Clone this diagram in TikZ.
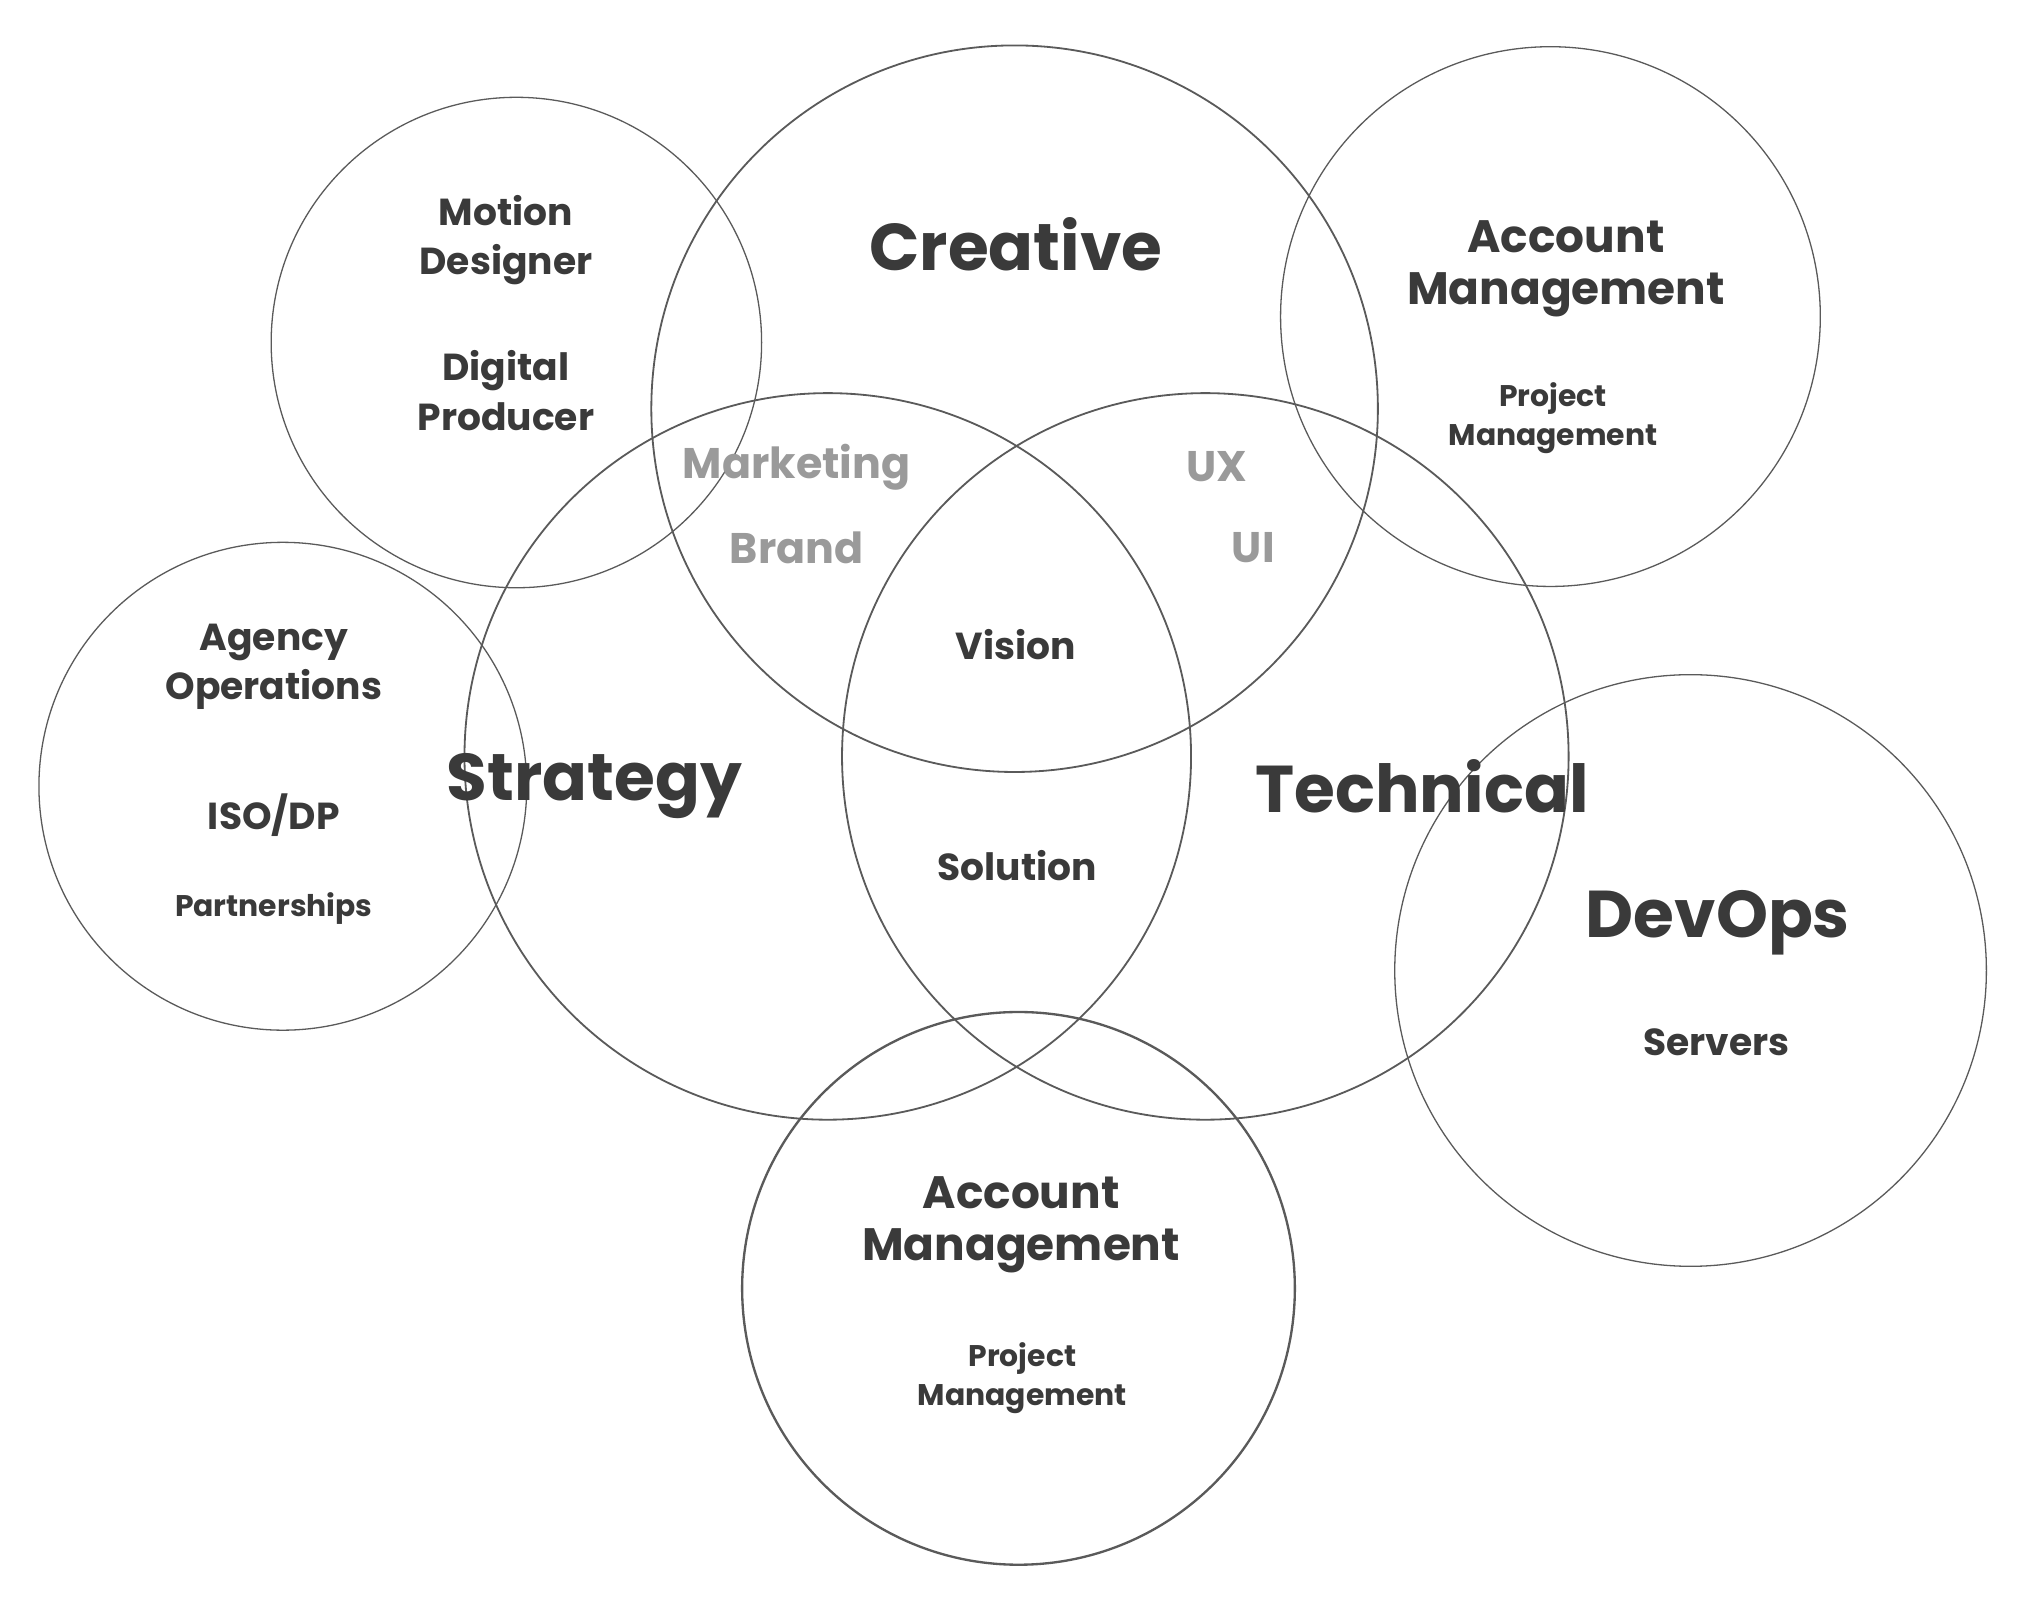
\documentclass[tikz,border=0pt]{standalone}
\usepackage{fontspec}
\setmainfont{Poppins}
\definecolor{txt}{HTML}{3A3A3A}
\definecolor{lite}{HTML}{9A9A9A}
\definecolor{ring}{HTML}{5A5A5A}
\tikzset{
 ring/.style={draw=ring,line width=1.4pt},
 big/.style={font=\bfseries\fontsize{51}{56}\selectfont,text=txt,align=center},
 mid/.style={font=\bfseries\fontsize{35}{40}\selectfont,text=txt,align=center},
 sml/.style={font=\bfseries\fontsize{29}{38}\selectfont,text=txt,align=center},
 tiny/.style={font=\bfseries\fontsize{23}{30}\selectfont,text=txt,align=center},
 gry/.style={font=\bfseries\fontsize{33}{40}\selectfont,text=lite,align=center}
}
\begin{document}
\begin{tikzpicture}[x=1pt,y=-1pt]
\useasboundingbox (0,0) rectangle (1560,1247);
\draw[ring] (782,315) circle (280);
\draw[ring] (638,583) circle (280);
\draw[ring] (929,583) circle (280);
\draw[ring,line width=1pt] (398,264) circle (189);
\draw[ring,line width=1pt] (1195,244) circle (208);
\draw[ring,line width=1pt] (218,606) circle (188);
\draw[ring,line width=1pt] (1303,748) circle (228);
\draw[ring,line width=1.8pt] (785,993) circle (213);
\node[big] (cr) at (783,188) {Creative};
\node[big] (st) at (458,606) {Strategy};
\node[big] (te) at (1096,606) {Technical};
\node[big] (dv) at (1324,711) {DevOps};
\node[mid] (am1) at (1207,207) {Account\\Management};
\node[mid] (am2) at (787,944) {Account\\Management};
\node[sml] (md) at (390,185) {Motion\\Designer};
\node[sml] (dp) at (390,301) {Digital\\Producer};
\node[sml] (ag) at (211,514) {Agency\\Operations};
\node[sml] (iso) at (211,628) {ISO/DP};
\node[tiny] (pa) at (211,700) {Partnerships};
\node[tiny] (pm1) at (1197,322) {Project\\Management};
\node[tiny] (pm2) at (788,1062) {Project\\Management};
\node[sml] (sv) at (1323,803) {Servers};
\node[sml] (vi) at (783,497) {Vision};
\node[sml] (so) at (784,667) {Solution};
\node[gry] (mk) at (614,360) {Marketing};
\node[gry] (br) at (614,422) {Brand};
\node[gry] (ux) at (938,360) {UX};
\node[gry] (ui) at (966,422) {UI};
\end{tikzpicture}
\end{document}
